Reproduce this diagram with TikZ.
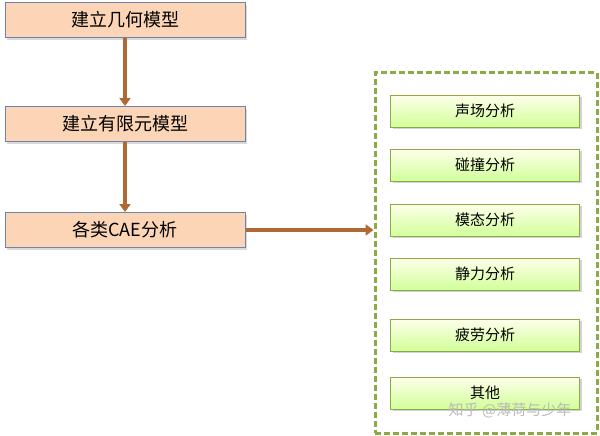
\documentclass[tikz,border=0pt]{standalone}
\usepackage{fontspec}
\newfontfamily\cjk{Noto Sans CJK SC}
\usetikzlibrary{arrows.meta,shadows}
\definecolor{arrbrown}{RGB}{176,104,52}
\definecolor{lfill}{RGB}{251,213,181}
\definecolor{lline}{RGB}{110,130,170}
\definecolor{dgreen}{RGB}{140,170,70}
\begin{document}
\begin{tikzpicture}[x=1pt,y=-1pt,
 lbox/.style={draw=lline,line width=1pt,fill=lfill,minimum width=240pt,minimum height=35pt,inner sep=0pt,font=\cjk\fontsize{18}{18}\selectfont,drop shadow={opacity=0.3}},
 gbox/.style={draw=dgreen,line width=0.8pt,top color=green!5!yellow!8!white,bottom color=green!45!yellow!40!white,minimum width=189pt,minimum height=32pt,inner sep=0pt,font=\cjk\fontsize{15}{15}\selectfont,drop shadow={opacity=0.35}},
 arr/.style={draw=arrbrown,line width=3.5pt,-{Triangle[length=8pt,width=11pt]}}]
\useasboundingbox (0,0) rectangle (600,436);
\node[lbox] (a) at (125,20) {建立几何模型};
\node[lbox] (b) at (125,124) {建立有限元模型};
\node[lbox] (c) at (125,230) {各类CAE分析};
\node[draw=dgreen,dash pattern=on 6pt off 3pt,line width=3pt,minimum width=222pt,minimum height=360pt,inner sep=0pt] (d) at (486,253) {};
\node[gbox] (g1) at (485,111) {声场分析};
\node[gbox] (g2) at (485,165) {碰撞分析};
\node[gbox] (g3) at (485,220) {模态分析};
\node[gbox] (g4) at (485,274) {静力分析};
\node[gbox] (g5) at (485,335) {疲劳分析};
\node[gbox] (g6) at (485,393) {其他};
\node[font=\cjk\fontsize{15}{15}\selectfont,text=gray!55] (w) at (510,410) {知乎 @薄荷与少年};
\draw[arr] (a) -- (b);
\draw[arr] (b) -- (c);
\draw[arr] (c.east) -- (d.west|-c.east);
\end{tikzpicture}
\end{document}
